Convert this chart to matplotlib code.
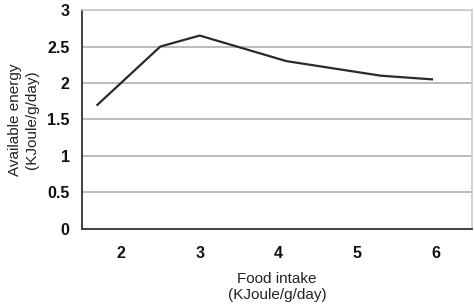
import matplotlib
matplotlib.use("Agg")
import matplotlib.pyplot as plt

food_intake = [1.7, 2.5, 3.0, 4.1, 5.3, 5.95]
available_energy = [1.70, 2.50, 2.65, 2.30, 2.10, 2.05]
x_ticks = [2, 3, 4, 5, 6]
y_ticks = [0, 0.5, 1, 1.5, 2, 2.5, 3]
y_tick_labels = ["0", "0.5", "1", "1.5", "2", "2.5", "3"]

plt.rcParams['font.family'] = ['Liberation Sans', 'DejaVu Sans']

fig = plt.figure(figsize=(4.74, 3.04), dpi=100)
ax = fig.add_axes([0.173, 0.247, 0.823, 0.720])

for yv in y_ticks[1:]:
    ax.axhline(yv, color='#a8a8a8', lw=1.1, zorder=1)
ax.plot(food_intake, available_energy, color='#2a2a2a', lw=1.6, zorder=3)

ax.set_xlim(1.505, 6.46)
ax.set_ylim(0, 3)
ax.set_xticks(x_ticks)
ax.set_xticklabels([str(t) for t in x_ticks], fontweight='bold', fontsize=11.5)
ax.set_yticks(y_ticks)
ax.set_yticklabels(y_tick_labels, fontweight='bold', fontsize=11.5)
ax.tick_params(axis='y', length=0, pad=9, colors='#111111')
ax.tick_params(axis='x', length=0, pad=12, colors='#111111')

for s in ['top', 'right']:
    ax.spines[s].set_color('#c8c8c8')
    ax.spines[s].set_linewidth(1.1)
for s in ['left', 'bottom']:
    ax.spines[s].set_color('#333333')
    ax.spines[s].set_linewidth(1.3)

ax.set_xlabel("Food intake\n(KJoule/g/day)", fontsize=11, color='#222222', labelpad=8)
ax.set_ylabel("Available energy\n(KJoule/g/day)", fontsize=11, color='#222222', labelpad=6)

fig.savefig("out.png", dpi=100)
